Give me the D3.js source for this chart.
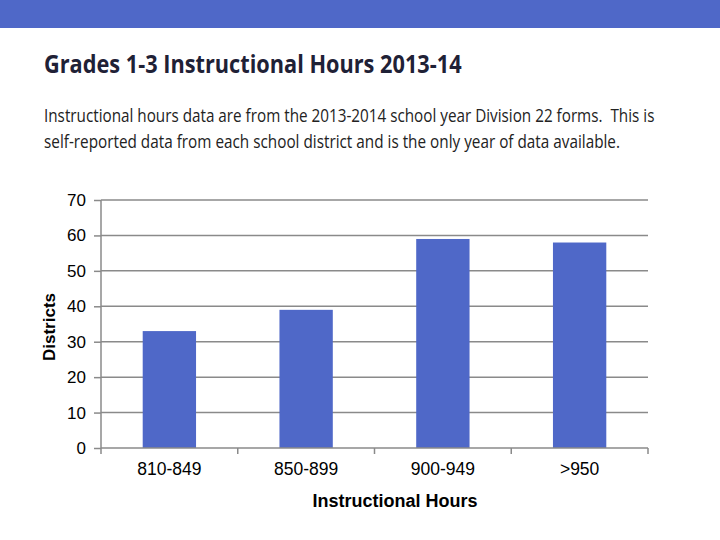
<!DOCTYPE html>
<html>
<head>
<meta charset="utf-8">
<script src="https://cdn.jsdelivr.net/npm/d3@7"></script>
<style>
  body { margin: 0; background: #fff; }
  svg { display: block; }
</style>
</head>
<body>
<div id="chart"></div>
<script>
// data
var categories = ["810-849", "850-899", "900-949", ">950"];
var districts = [33, 39, 59, 58];
var yTicks = [0, 10, 20, 30, 40, 50, 60, 70];

var titleText = "Grades 1-3 Instructional Hours 2013-14";
var noteLines = [
  "Instructional hours data are from the 2013-2014 school year Division 22 forms.  This is",
  "self-reported data from each school district and is the only year of data available."
];

var W = 720, H = 540;
var margin = {top: 200, right: 72, bottom: 92, left: 101}
  , width = W - margin.left - margin.right
  , height = H - margin.top - margin.bottom;

var svg = d3.select("#chart").append("svg")
    .attr("width", W)
    .attr("height", H);

// blue band across the top
svg.append("rect")
    .attr("x", 0).attr("y", 0)
    .attr("width", W).attr("height", 28)
    .attr("fill", "#4f68c8");

var slideFont = "'Open Sans', sans-serif";
var axisFont = "'Liberation Sans', Arial, sans-serif";

// slide text is a condensed face in the original, squeeze it horizontally
function squeezed(x, y, size, weight, color, str, targetW) {
  var t = svg.append("text")
      .attr("font-family", slideFont)
      .attr("font-weight", weight)
      .attr("font-size", size)
      .attr("fill", color)
      .style("white-space", "pre")
      .text(str);
  var w = t.node().getComputedTextLength();
  t.attr("transform", "translate(" + x + "," + y + ") scale(" + (targetW / w) + ",1)");
}

squeezed(44, 73, 25, "bold", "#1f2136", titleText, 418);
squeezed(44, 122, 19, "normal", "#222", noteLines[0], 611);
squeezed(44, 148, 19, "normal", "#222", noteLines[1], 576);

var g = svg.append("g")
    .attr("transform", "translate(" + margin.left + "," + margin.top + ")");

var xScale = d3.scaleBand()
    .domain(categories)
    .range([0, width])
    .paddingInner(0.61)
    .paddingOuter(0.305);

var yScale = d3.scaleLinear()
    .domain([0, 70])
    .range([height, 0]);

// gridlines
g.selectAll(".grid")
    .data(yTicks.slice(1))
  .enter().append("line")
    .attr("class", "grid")
    .attr("x1", 0).attr("x2", width)
    .attr("y1", function(d) { return yScale(d); })
    .attr("y2", function(d) { return yScale(d); })
    .attr("stroke", "#8a8a8a")
    .attr("stroke-width", 1.5);

g.selectAll(".bar")
    .data(districts)
  .enter().append("rect")
    .attr("class", "bar")
    .attr("x", function(d, i) { return xScale(categories[i]); })
    .attr("width", xScale.bandwidth())
    .attr("y", function(d) { return yScale(d); })
    .attr("height", function(d) { return height - yScale(d); })
    .attr("fill", "#4f68c8");

// y axis
var yAxis = g.append("g")
    .call(d3.axisLeft(yScale).tickValues(yTicks).tickSize(7).tickPadding(8));
yAxis.selectAll("path, line").attr("stroke", "#8a8a8a").attr("stroke-width", 1.5);
yAxis.select(".domain").attr("d", "M0,0V" + height);
yAxis.selectAll("text")
    .attr("font-family", axisFont)
    .attr("font-size", 17)
    .attr("fill", "#000");

// x axis: ticks sit at category boundaries
var step = xScale.step();
var xAxis = g.append("g")
    .attr("transform", "translate(0," + height + ")");
xAxis.append("line")
    .attr("x1", 0).attr("x2", width)
    .attr("stroke", "#8a8a8a").attr("stroke-width", 1.5);
xAxis.selectAll(".xtick")
    .data(d3.range(categories.length + 1))
  .enter().append("line")
    .attr("class", "xtick")
    .attr("x1", function(d) { return d * step; })
    .attr("x2", function(d) { return d * step; })
    .attr("y1", 0).attr("y2", 6)
    .attr("stroke", "#8a8a8a").attr("stroke-width", 1.5);
xAxis.selectAll(".xlabel")
    .data(categories)
  .enter().append("text")
    .attr("class", "xlabel")
    .attr("x", function(d) { return xScale(d) + xScale.bandwidth() / 2; })
    .attr("y", 27)
    .attr("text-anchor", "middle")
    .attr("font-family", axisFont)
    .attr("font-size", 17.5)
    .attr("fill", "#000")
    .text(function(d) { return d; });

// axis titles
svg.append("text")
    .attr("x", 395)
    .attr("y", 507)
    .attr("text-anchor", "middle")
    .attr("font-family", axisFont)
    .attr("font-weight", "bold")
    .attr("font-size", 18)
    .text("Instructional Hours");

svg.append("text")
    .attr("transform", "translate(55," + (margin.top + height / 2 + 3) + ") rotate(-90)")
    .attr("text-anchor", "middle")
    .attr("font-family", axisFont)
    .attr("font-weight", "bold")
    .attr("font-size", 17)
    .text("Districts");
</script>
</body>
</html>
